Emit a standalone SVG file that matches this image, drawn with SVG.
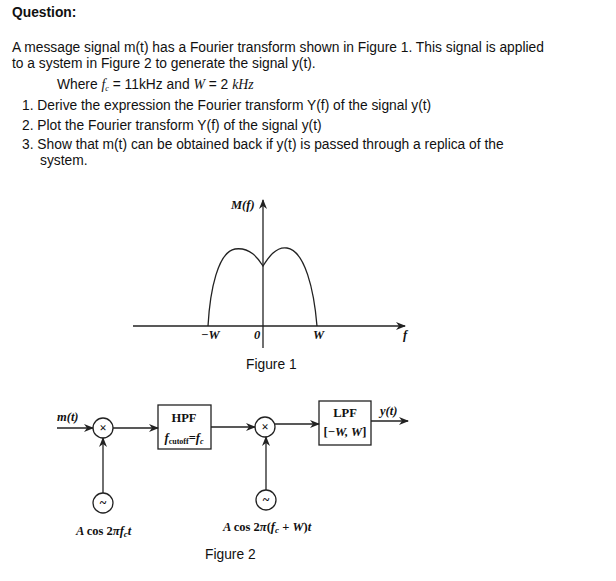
<svg xmlns="http://www.w3.org/2000/svg" width="616" height="581" viewBox="0 0 616 581">
<defs>
<marker id="ar" markerWidth="10" markerHeight="8" refX="9" refY="4" orient="auto" markerUnits="userSpaceOnUse"><path d="M0,0 L10,4 L0,8 L3,4 Z" fill="#222"/></marker>
</defs>
<style>
.t{font-family:"Liberation Sans",Arial,sans-serif;font-size:13.8px;fill:#111}
.m{font-family:"Liberation Serif","Times New Roman",serif;font-style:italic;font-size:12.5px;fill:#111;font-weight:bold}
.s{font-family:"Liberation Serif","Times New Roman",serif;font-size:12.5px;fill:#111;font-weight:bold}
.ln{stroke:#222;stroke-width:1.3;fill:none}
</style>
<rect width="616" height="581" fill="#fff"/>
<text class="t" x="12" y="17" font-weight="bold">Question:</text>
<text class="t" x="12" y="52">A message signal m(t) has a Fourier transform shown in Figure 1. This signal is applied</text>
<text class="t" x="12" y="68">to a system in Figure 2 to generate the signal y(t).</text>
<text class="t" x="57" y="89">Where <tspan font-family="Liberation Serif" font-style="italic">f</tspan><tspan font-size="8" font-family="Liberation Serif" font-style="italic" dy="2">c</tspan><tspan dy="-2"> = 11kHz  and    </tspan><tspan font-family="Liberation Serif" font-style="italic">W</tspan> = 2 <tspan font-family="Liberation Serif" font-style="italic">kHz</tspan></text>
<text class="t" x="22" y="110">1.  Derive the expression the Fourier transform Y(f) of the signal y(t)</text>
<text class="t" x="22" y="130">2.  Plot the Fourier transform Y(f) of the signal y(t)</text>
<text class="t" x="22" y="149">3.  Show that m(t) can be obtained back if y(t) is passed through a replica of the</text>
<text class="t" x="40" y="165">system.</text>

<g id="figure1">
<line class="ln" x1="133" y1="326" x2="405" y2="326" marker-end="url(#ar)"/>
<line class="ln" x1="263" y1="348" x2="263" y2="200" marker-end="url(#ar)"/>
<path class="ln" d="M208,326 C210,290 218,252 235,249 C250,247 258,258 263,266 C268,258 276,246 287,248 C305,251 314,290 317,326" stroke-width="1.6"/>
<text class="m" x="231" y="209" font-size="11">M(f)</text>
<text class="m" x="201" y="339" font-size="11">−W</text>
<text class="m" x="254" y="339" font-size="11">0</text>
<text class="m" x="313" y="339" font-size="11">W</text>
<text class="m" x="403" y="339" font-size="11">f</text>
<text class="t" x="246" y="369">Figure 1</text>
</g>

<g id="connectors">
<line class="ln" x1="57" y1="428" x2="93" y2="428" marker-end="url(#ar)"/>
<line class="ln" x1="113" y1="428" x2="158" y2="428" marker-end="url(#ar)"/>
<line class="ln" x1="211" y1="427" x2="255" y2="427" marker-end="url(#ar)"/>
<line class="ln" x1="275" y1="424" x2="319" y2="424" marker-end="url(#ar)"/>
<line class="ln" x1="371" y1="421" x2="408" y2="421" marker-end="url(#ar)"/>
<line class="ln" x1="103" y1="493" x2="103" y2="438" marker-end="url(#ar)"/>
<line class="ln" x1="266" y1="490" x2="266" y2="437" marker-end="url(#ar)"/>
</g>

<g id="mult1"><circle class="ln" cx="103" cy="428" r="10"/><text class="s" x="103" y="432" text-anchor="middle" font-size="14" font-weight="normal">×</text></g>
<g id="hpf"><rect class="ln" x="158" y="405" width="53" height="44"/>
<text class="s" x="184" y="422" text-anchor="middle">HPF</text>
<text class="m" x="184" y="442" text-anchor="middle">f<tspan font-size="8" font-style="normal" dy="2">cutoff</tspan><tspan dy="-2" font-style="normal">=</tspan>f<tspan font-size="8" dy="2">c</tspan></text></g>
<g id="mult2"><circle class="ln" cx="265" cy="427" r="10"/><text class="s" x="265" y="431" text-anchor="middle" font-size="14" font-weight="normal">×</text></g>
<g id="lpf"><rect class="ln" x="319" y="401" width="52" height="44"/>
<text class="s" x="345" y="417" text-anchor="middle">LPF</text>
<text class="m" x="345" y="436" text-anchor="middle"><tspan font-style="normal">[−</tspan>W, W<tspan font-style="normal">]</tspan></text></g>
<text class="m" x="380" y="415">y(t)</text>
<text class="m" x="57" y="421">m(t)</text>
<g id="osc1"><circle class="ln" cx="103" cy="503" r="10"/><text class="s" x="103" y="507" text-anchor="middle">~</text></g>
<g id="osc2"><circle class="ln" cx="266" cy="500" r="10"/><text class="s" x="266" y="504" text-anchor="middle">~</text></g>
<text class="m" x="76" y="535">A <tspan font-style="normal">cos 2</tspan>πf<tspan font-size="9" dy="2">c</tspan><tspan dy="-2">t</tspan></text>
<text class="m" x="223" y="531">A <tspan font-style="normal">cos 2</tspan>π<tspan font-style="normal">(</tspan>f<tspan font-size="9" dy="2">c</tspan><tspan dy="-2" font-style="normal"> + </tspan>W<tspan font-style="normal">)</tspan>t</text>
<text class="t" x="205" y="559">Figure 2</text>
</svg>
